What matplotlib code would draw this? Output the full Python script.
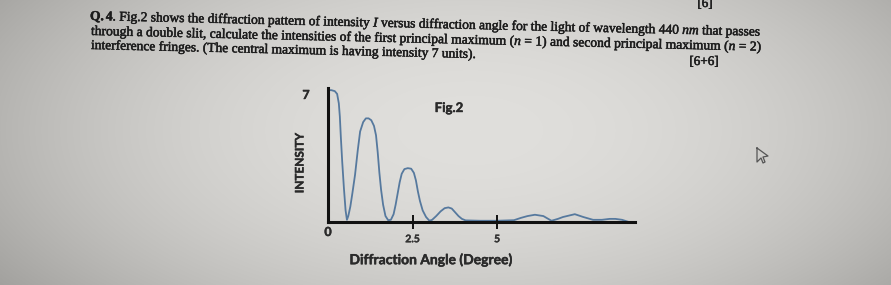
import os
import numpy as np
import matplotlib
matplotlib.use("Agg")
import matplotlib.pyplot as plt
import matplotlib.patheffects as pe
from matplotlib import font_manager as fm

# ---- data ----
angle = [0.0, 0.1, 0.2, 0.27, 0.32, 0.35, 0.38, 0.42, 0.47, 0.52, 0.56, 0.6, 0.66,
         0.72, 0.8, 0.88, 0.95, 1.04, 1.12, 1.2, 1.28, 1.36, 1.42, 1.47, 1.52, 1.57,
         1.63, 1.7, 1.78, 1.86, 1.94, 2.0, 2.06, 2.12, 2.18, 2.26, 2.36, 2.46, 2.54,
         2.6, 2.66, 2.72, 2.8, 2.9, 3.0, 3.08, 3.2, 3.33, 3.45, 3.56, 3.66, 3.76,
         3.86, 3.96, 4.07, 4.5, 5.0, 5.5, 5.7, 5.9, 6.12, 6.37, 6.61, 6.8, 6.95,
         7.3, 7.55, 7.84, 8.1, 8.33, 8.5, 8.7, 8.87]
intensity = [7.0, 7.0, 6.95, 6.8, 6.3, 5.6, 4.5, 3.2, 1.8, 0.6, 0.1, 0.3, 0.8,
             1.5, 2.5, 3.8, 4.8, 5.3, 5.5, 5.5, 5.4, 5.1, 4.6, 3.7, 2.6, 1.7,
             0.9, 0.3, 0.08, 0.1, 0.4, 0.9, 1.5, 2.1, 2.55, 2.8, 2.85, 2.82, 2.6,
             2.2, 1.6, 1.1, 0.6, 0.25, 0.05, 0.1, 0.3, 0.55, 0.72, 0.76, 0.7, 0.5,
             0.3, 0.15, 0.07, 0.05, 0.05, 0.08, 0.2, 0.3, 0.37, 0.3, 0.05, 0.15, 0.25,
             0.4, 0.25, 0.1, 0.1, 0.15, 0.15, 0.1, 0.0]
x_ticks = [0, 2.5, 5]
x_tick_labels = ["0", "2.5", "5"]
y_top_label = "7"

question_lines = [
    r"$\mathbf{Q.4}$. Fig.2 shows the diffraction pattern of intensity $\mathit{I}$ versus diffraction angle for the light of wavelength $\mathit{440\ nm}$ that passes",
    r"through a double slit, calculate the intensities of the first principal maximum ($\mathit{n}$ = $\mathit{1}$) and second principal maximum ($\mathit{n}$ = 2)",
    r"interference fringes. (The central maximum is having intensity 7 units).",
]
marks_label = "[6+6]"
top_marks = "[6]"

plt.rcParams['mathtext.fontset'] = 'custom'
plt.rcParams['mathtext.rm'] = 'Liberation Serif'
plt.rcParams['mathtext.it'] = 'Liberation Serif:italic'
plt.rcParams['mathtext.bf'] = 'Liberation Serif:bold'

# pick a definite bold sans font file
bold_file = None
for fam in ['Lato', 'Open Sans']:
    for f in fm.fontManager.ttflist:
        base = os.path.basename(f.fname).lower()
        if f.name == fam and 'bold' in base and 'italic' not in base \
                and 'semi' not in base and 'extra' not in base:
            bold_file = f.fname
            break
    if bold_file:
        break


def bold_prop(size):
    if bold_file is not None:
        return fm.FontProperties(fname=bold_file, size=size)
    return fm.FontProperties(family='DejaVu Sans', weight='bold', size=size)


W, H = 891, 285
fig = plt.figure(figsize=(W / 100, H / 100), dpi=100)

# background (photo-like vignetting)
bg = fig.add_axes([0, 0, 1, 1], zorder=0)
yy, xx = np.mgrid[0:H, 0:W]
dx = (xx - 470) / 470.0
dy = (yy - 130) / 170.0
v = 224 - 42 * dx ** 2 - 24 * dy ** 2
img = np.dstack([v, v - 1, v - 4]).clip(0, 255) / 255.0
bg.imshow(img, aspect='auto', extent=[0, W, H, 0])
bg.set_xlim(0, W)
bg.set_ylim(H, 0)
bg.axis('off')

txt_color = '#1c1c1c'
thick = [pe.withStroke(linewidth=0.35, foreground=txt_color)]

# question text (photo is slightly tilted)
renderer = fig.canvas.get_renderer()
target_w = 671
tilt = -1.35
line_xy = [(90, 17), (91, 31.5), (91, 46)]
for i, s in enumerate(question_lines):
    t = bg.text(line_xy[i][0], line_xy[i][1], s, fontsize=10, family='Liberation Serif',
                color=txt_color, va='center', ha='left', path_effects=thick)
    if i < 2:
        w = t.get_window_extent(renderer).width
        t.set_fontsize(10 * target_w / w)
    else:
        t.set_fontsize(9.7)
    t.set_rotation(tilt)
    t.set_rotation_mode('anchor')
bg.text(704, 62, marks_label, fontsize=9.5, family='Liberation Serif', color=txt_color,
        va='center', ha='center', path_effects=thick)
bg.text(705, 4, top_marks, fontsize=9.5, family='Liberation Serif', color=txt_color,
        va='center', ha='center', path_effects=thick)

# chart
x0, x1 = 328, 635
yb, yt = 221.7, 88.3
ax = fig.add_axes([x0 / W, (H - yb) / H, (x1 - x0) / W, (yb - yt) / H], zorder=2)
ax.patch.set_alpha(0)
ax.set_xlim(0, 9.08)
ax.set_ylim(0, 7.1)
ax.plot(angle, intensity, color='#56799e', lw=1.3, solid_joinstyle='round',
        clip_on=False, zorder=1)
for side in ['top', 'right']:
    ax.spines[side].set_visible(False)
for side in ['left', 'bottom']:
    ax.spines[side].set_linewidth(2.2)
    ax.spines[side].set_color('#111111')
    ax.spines[side].set_zorder(3)

lc = '#2a2a2a'
heavy = [pe.withStroke(linewidth=0.3, foreground=lc)]

ax.set_xticks(x_ticks[1:])
ax.set_xticklabels(x_tick_labels[1:])
ax.tick_params(axis='x', direction='inout', length=9.5, width=1.4, colors='#111111',
               pad=5)
for lab in ax.get_xticklabels():
    lab.set_fontproperties(bold_prop(7.5))
    lab.set_color('#333333')
    lab.set_path_effects([pe.withStroke(linewidth=0.25, foreground='#333333')])
ax.set_yticks([])

bg.text(328, 232, x_tick_labels[0], fontproperties=bold_prop(9), color=lc, ha='center',
        va='center', path_effects=heavy)
bg.text(306, 95, y_top_label, fontproperties=bold_prop(9), color=lc, ha='center',
        va='center', path_effects=heavy)
bg.text(300, 163, "INTENSITY", fontproperties=bold_prop(8.5), color=lc, rotation=90,
        ha='center', va='center', path_effects=heavy)
bg.text(449, 108, "Fig.2", fontproperties=bold_prop(9.5), color=lc, ha='center',
        va='center', path_effects=heavy)
bg.text(431, 260, "Diffraction Angle (Degree)", fontproperties=bold_prop(10), color=lc,
        ha='center', va='center', path_effects=heavy)

# cursor icon
bg.plot([757, 757, 761, 763, 765, 763, 768, 757], [148, 162, 158, 163, 162, 157, 156, 148],
        color='#555555', lw=0.9)

fig.savefig('out.png', dpi=100)
